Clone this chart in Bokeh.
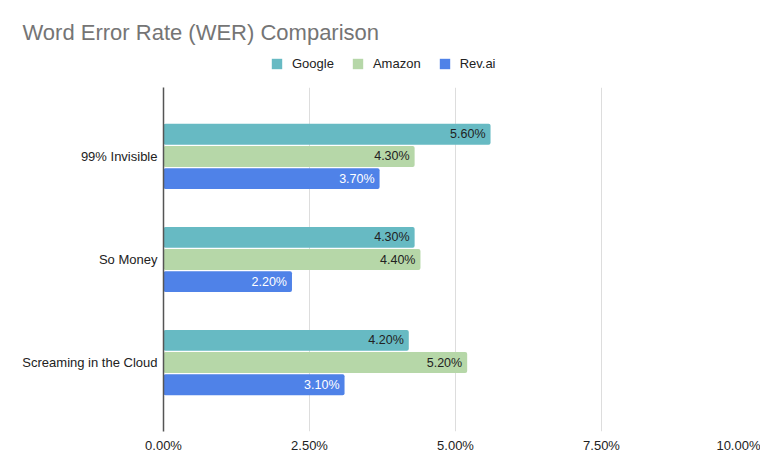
from bokeh.plotting import figure
from bokeh.layouts import column
from bokeh.models import ColumnDataSource, FactorRange, Legend, LegendItem, FixedTicker
from bokeh.transform import dodge
from bokeh.core.properties import value
from bokeh.embed import file_html
from bokeh.resources import INLINE

categories = ["99% Invisible", "So Money", "Screaming in the Cloud"]
series = ["Google", "Amazon", "Rev.ai"]
google = [5.6, 4.3, 4.2]
amazon = [4.3, 4.4, 5.2]
revai = [3.7, 2.2, 3.1]
colors = ["#67BAC3", "#B6D7A8", "#4F82E8"]
label_colors = ["#222222", "#222222", "#ffffff"]
x_ticks = [0, 2.5, 5, 7.5, 10]
title_text = "Word Error Rate (WER) Comparison"

FONT = "Liberation Sans"

src = ColumnDataSource(dict(
    cat=categories,
    google=google, amazon=amazon, revai=revai,
    google_lbl=[f"{v:.2f}%" for v in google],
    amazon_lbl=[f"{v:.2f}%" for v in amazon],
    revai_lbl=[f"{v:.2f}%" for v in revai],
))

# ---- header figure: title + legend (frame aligned with main chart) ----
head = figure(width=760, height=87, x_range=(0, 1), y_range=(0, 1),
              output_backend="svg", toolbar_location=None,
              x_axis_location=None, y_axis_location=None,
              min_border_left=163, min_border_right=13, min_border_top=56, min_border_bottom=0)
head.grid.visible = False
head.outline_line_color = None
head.title.text = title_text
head.title.text_font = FONT
head.title.text_font_size = "22px"
head.title.text_font_style = "normal"
head.title.text_color = "#757575"
head.title.align = "left"
head.title.offset = -141
head.title.standoff = 24

dummy = []
for c in colors:
    dummy.append(head.hbar(y=[0], right=[0], left=[0], height=0.01, fill_color=c, line_color=None))
legend = Legend(items=[LegendItem(label=s, renderers=[r]) for s, r in zip(series, dummy)],
                orientation="horizontal", location=(107, 16),
                glyph_width=13, glyph_height=13, label_standoff=9, spacing=17,
                padding=0, margin=0, border_line_color=None, background_fill_alpha=0,
                label_text_font=FONT, label_text_font_size="13px", label_text_color="#222222")
head.add_layout(legend, "center")

# ---- main chart ----
yr = FactorRange(factors=categories[::-1], range_padding=0.113, range_padding_units="percent")

p = figure(width=760, height=376, y_range=yr, x_range=(0, 10),
           output_backend="svg", toolbar_location=None,
           min_border_left=163, min_border_right=13, min_border_top=0, min_border_bottom=32)

offsets = [0.215, 0.0, -0.215]
fields = ["google", "amazon", "revai"]
for f, off, c, lc in zip(fields, offsets, colors, label_colors):
    p.hbar(y=dodge("cat", off, range=yr), right=f, left=0, height=0.203,
           source=src, fill_color=c, line_color=None, border_radius=2)
    p.text(x=f, y=dodge("cat", off, range=yr), text=f + "_lbl", source=src,
           text_align="right", text_baseline="middle", x_offset=-5,
           text_font=value(FONT), text_font_size="12.5px", text_color=lc)

p.xaxis.ticker = FixedTicker(ticks=x_ticks)
p.xaxis.major_label_overrides = {t: f"{t:.2f}%" for t in x_ticks}
p.xaxis.axis_line_color = None
p.xaxis.major_tick_line_color = None
p.xaxis.minor_tick_line_color = None
p.xaxis.major_tick_out = 0
p.xaxis.major_tick_in = 0
p.xaxis.major_label_standoff = 6
p.xaxis.major_label_text_font = FONT
p.xaxis.major_label_text_font_size = "13px"
p.xaxis.major_label_text_color = "#222222"

p.yaxis.axis_line_color = "#555555"
p.yaxis.axis_line_width = 1.5
p.yaxis.major_tick_line_color = None
p.yaxis.minor_tick_line_color = None
p.yaxis.major_tick_out = 0
p.yaxis.major_tick_in = 0
p.yaxis.major_label_standoff = 6
p.yaxis.major_label_text_font = FONT
p.yaxis.major_label_text_font_size = "13px"
p.yaxis.major_label_text_color = "#222222"

p.xgrid.grid_line_color = "#dddddd"
p.ygrid.grid_line_color = None
p.outline_line_color = None

layout = column(head, p, spacing=0)
open("out.html", "w").write(file_html(layout, INLINE))
